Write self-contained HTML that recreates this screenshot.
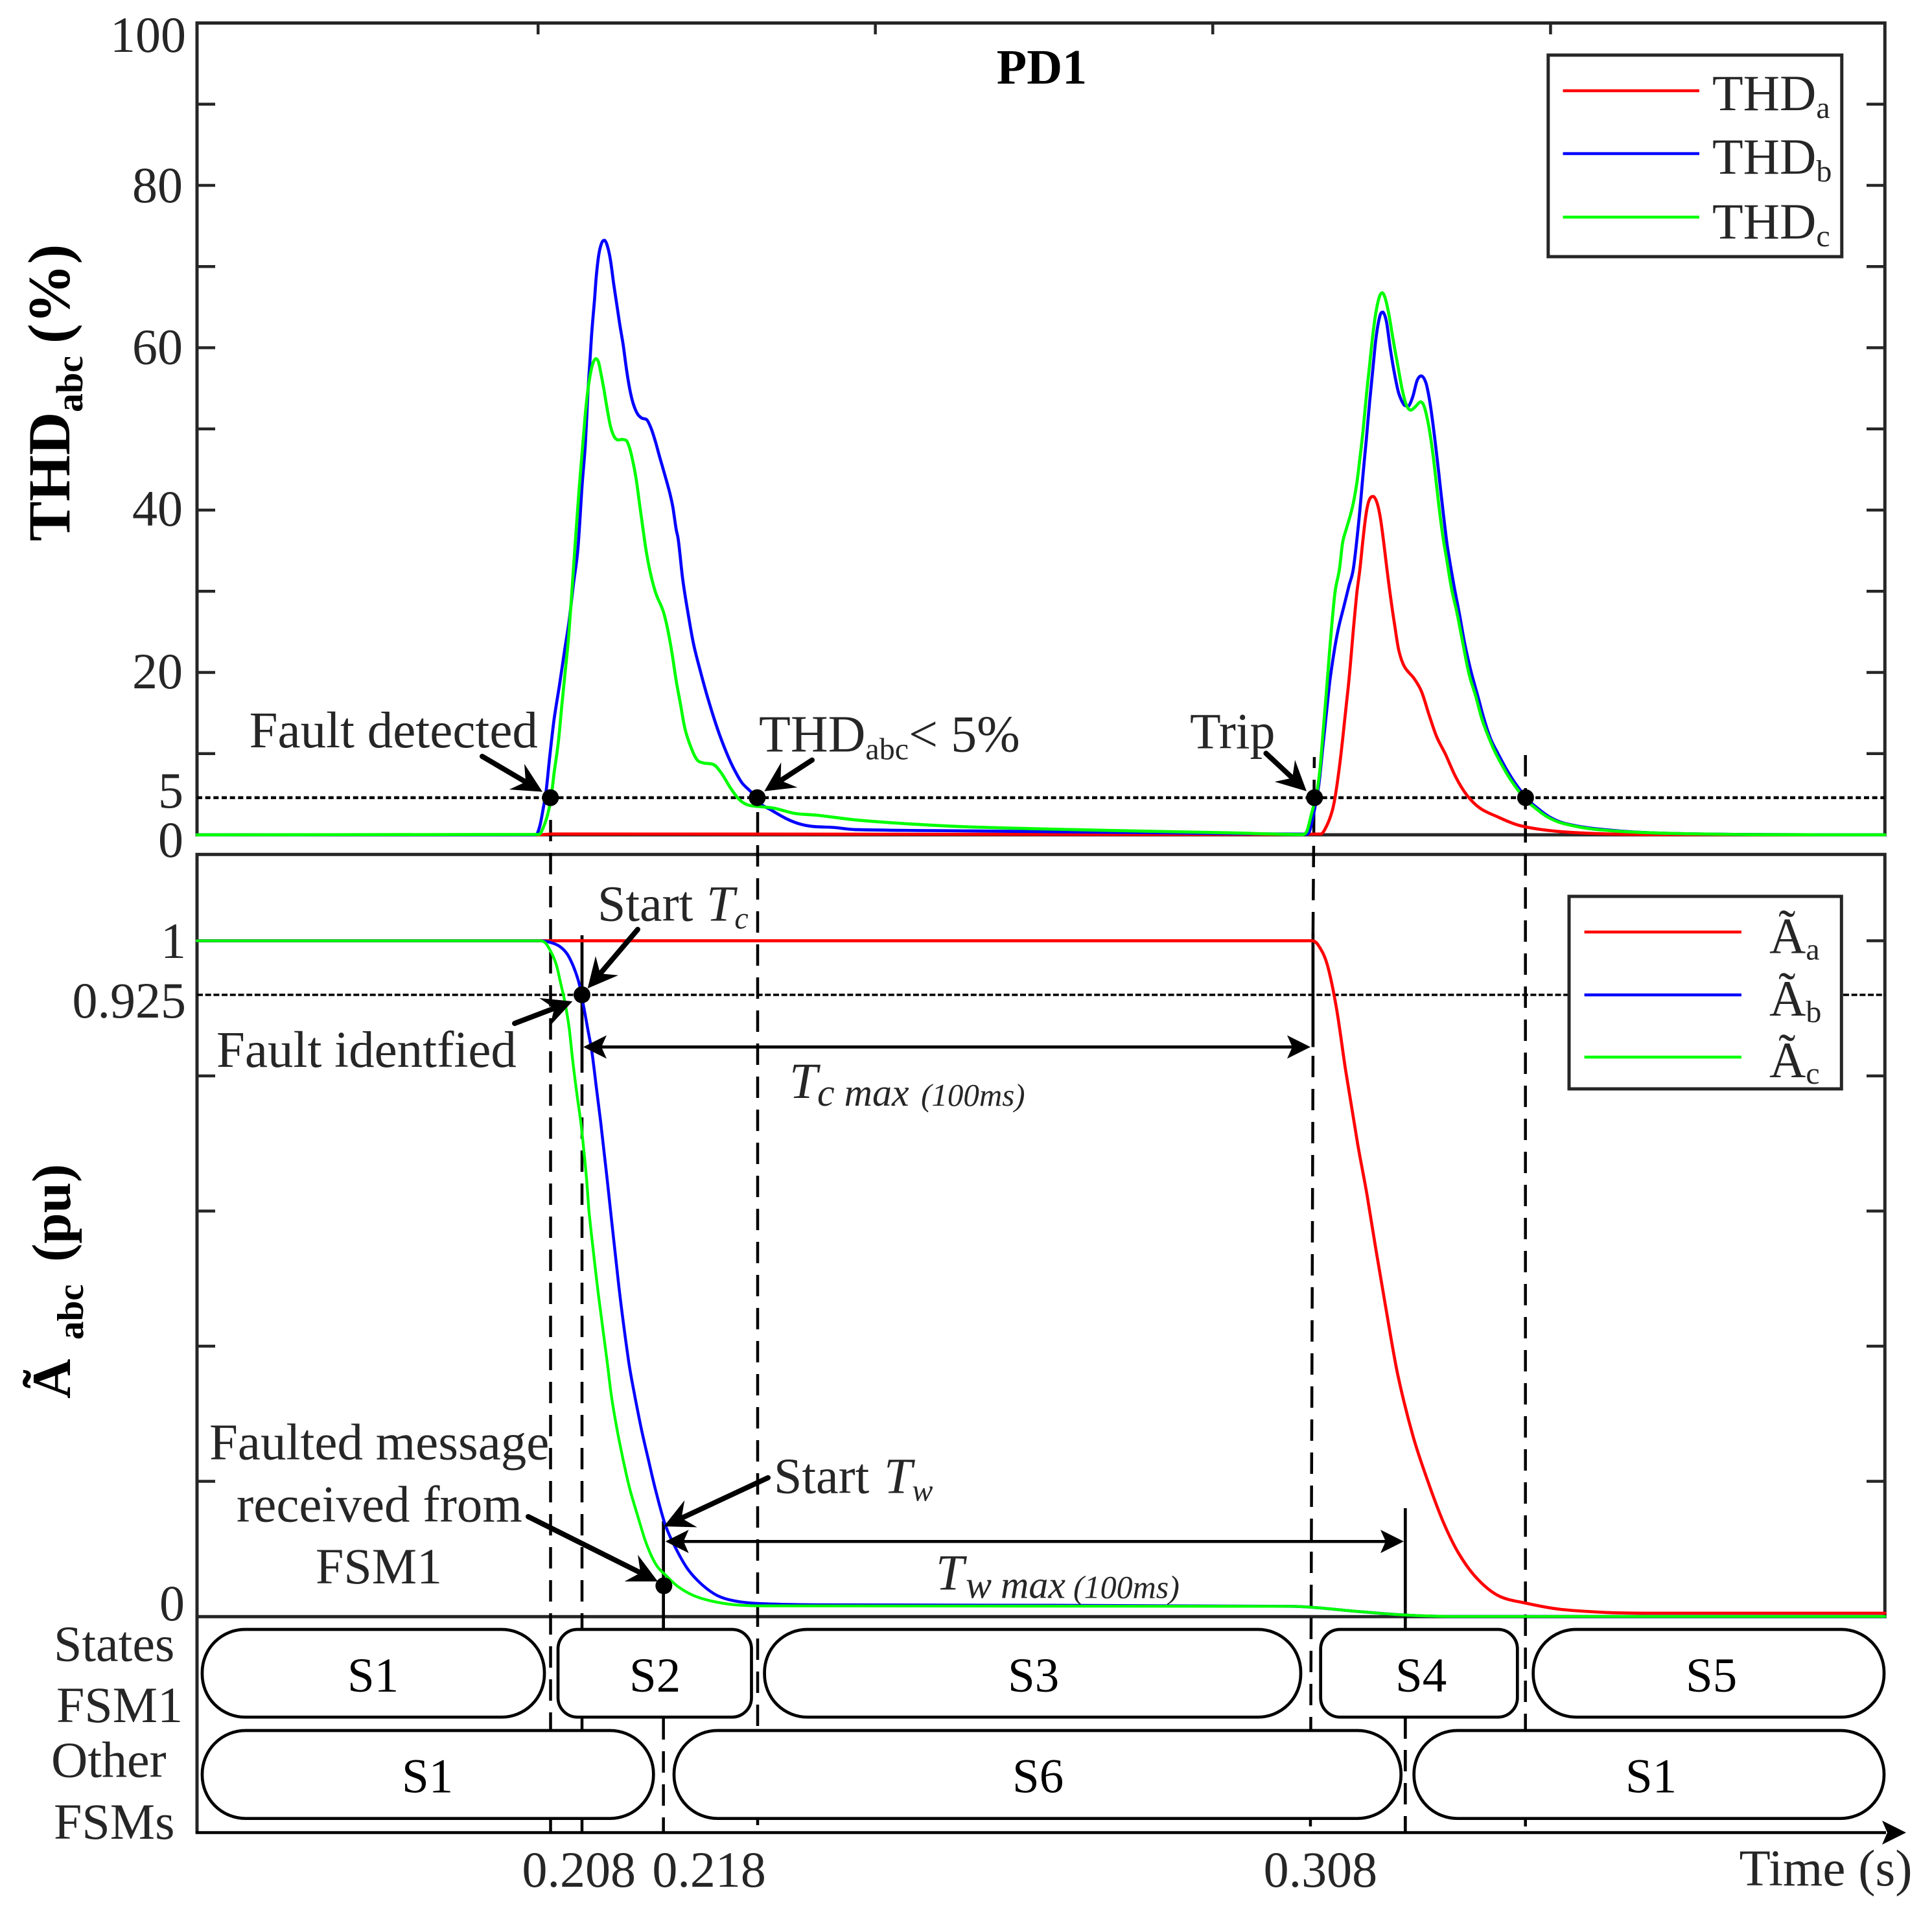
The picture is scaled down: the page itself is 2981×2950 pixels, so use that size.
<!DOCTYPE html>
<html lang="en">
<head>
<meta charset="utf-8">
<title>PD1 THD and amplitude timing chart</title>
<style>
html,body{margin:0;padding:0;background:#fff;}
svg{display:block;}
text{font-family:"Liberation Serif","DejaVu Serif",serif;fill:#262626;font-size:78px;}
.blk{fill:#000;}
.it{font-style:italic;}
.sub{font-size:48px;}
.pilltxt{font-size:75px;fill:#000;}
.pill{fill:#fff;stroke:#000;stroke-width:4.7;}
.frame{fill:none;stroke:#262626;stroke-width:5;}
.legendbox{fill:#fff;stroke:#262626;stroke-width:5;}
</style>
</head>
<body>
<svg id="chart" xmlns="http://www.w3.org/2000/svg" width="2981" height="2950" viewBox="0 0 2981 2950">
  <rect x="0" y="0" width="2981" height="2950" fill="#fff"/>

  <rect class="frame" x="304" y="35.5" width="2604.3" height="1252.5"/>
  <rect class="frame" x="304" y="1318.3" width="2604.3" height="1176"/>
  <g id="tick-layer"></g>
  <g id="guide-layer"></g>
  <g id="curve-layer"></g>

  <line x1="304" y1="2494" x2="304" y2="2829" stroke="#262626" stroke-width="5"/>
  <line x1="302" y1="2827.5" x2="2910" y2="2827.5" stroke="#000" stroke-width="4.5"/>
  <polygon points="2941,2827.5 2904,2809 2912,2827.5 2904,2846" fill="#000"/>

  <g>
    <rect class="pill" x="312" y="2514" width="528" height="135.3" rx="66" ry="66"/>
    <rect class="pill" x="861" y="2514" width="298.5" height="135.3" rx="30" ry="30"/>
    <rect class="pill" x="1179.6" y="2514" width="827.4" height="135.3" rx="66" ry="66"/>
    <rect class="pill" x="2037.7" y="2514" width="303.6" height="135.3" rx="30" ry="30"/>
    <rect class="pill" x="2365.7" y="2514" width="541.3" height="135.3" rx="66" ry="66"/>
    <text class="pilltxt" x="536" y="2610">S1</text>
    <text class="pilltxt" x="971" y="2610">S2</text>
    <text class="pilltxt" x="1555" y="2610">S3</text>
    <text class="pilltxt" x="2153" y="2610">S4</text>
    <text class="pilltxt" x="2601" y="2610">S5</text>
  </g>
  <g>
    <rect class="pill" x="312" y="2670" width="696.3" height="135.7" rx="67" ry="67"/>
    <rect class="pill" x="1040" y="2670" width="1121.7" height="135.7" rx="67" ry="67"/>
    <rect class="pill" x="2181.7" y="2670" width="725.3" height="135.7" rx="67" ry="67"/>
    <text class="pilltxt" x="620" y="2765.5">S1</text>
    <text class="pilltxt" x="1562" y="2765.5">S6</text>
    <text class="pilltxt" x="2508" y="2765.5">S1</text>
  </g>

  <g text-anchor="end">
    <text x="287" y="80">100</text>
    <text x="282" y="312">80</text>
    <text x="282" y="561.6">60</text>
    <text x="282" y="811">40</text>
    <text x="282" y="1062">20</text>
    <text x="283" y="1246">5</text>
    <text x="283" y="1322">0</text>
  </g>
  <g text-anchor="end">
    <text x="287" y="1478">1</text>
    <text x="287" y="1570">0.925</text>
    <text x="285" y="2500">0</text>
  </g>

  <text transform="translate(107,835) rotate(-90)" style="font-weight:bold;font-size:92px;fill:#000"><tspan x="0">THD</tspan><tspan x="199" dy="20" style="font-size:58px">abc</tspan><tspan x="305" dy="-20">(%)</tspan></text>
  <text transform="translate(108,2158) rotate(-90)" style="font-weight:bold;font-size:85px;fill:#000"><tspan x="0">Ã</tspan><tspan x="91" dy="20" style="font-size:57px">abc</tspan><tspan x="211" dy="-20">(pu)</tspan></text>

  <text x="1537.8" y="129" class="blk" style="font-weight:bold;font-size:76px">PD1</text>

  <g>
    <rect class="legendbox" x="2388.8" y="85" width="453" height="311"/>
    <line x1="2411.5" y1="140" x2="2622" y2="140" stroke="#ff0000" stroke-width="4.5"/>
    <line x1="2411.5" y1="237" x2="2622" y2="237" stroke="#0000ff" stroke-width="4.5"/>
    <line x1="2411.5" y1="335" x2="2622" y2="335" stroke="#00ff00" stroke-width="4.5"/>
    <text x="2642" y="170">THD<tspan class="sub" dy="12">a</tspan></text>
    <text x="2642" y="268">THD<tspan class="sub" dy="12">b</tspan></text>
    <text x="2642" y="368">THD<tspan class="sub" dy="12">c</tspan></text>
  </g>
  <g>
    <rect class="legendbox" x="2421" y="1383" width="420.3" height="297"/>
    <line x1="2444.6" y1="1438" x2="2687" y2="1438" stroke="#ff0000" stroke-width="4.5"/>
    <line x1="2444.6" y1="1535" x2="2687" y2="1535" stroke="#0000ff" stroke-width="4.5"/>
    <line x1="2444.6" y1="1631" x2="2687" y2="1631" stroke="#00ff00" stroke-width="4.5"/>
    <text x="2730" y="1470.5">Ã<tspan class="sub" dy="10">a</tspan></text>
    <text x="2730" y="1567">Ã<tspan class="sub" dy="10">b</tspan></text>
    <text x="2730" y="1662">Ã<tspan class="sub" dy="10">c</tspan></text>
  </g>

  <text x="384.6" y="1152.8" style="font-size:79px">Fault detected</text>
  <text x="1171" y="1159.5" style="font-size:80px">THD<tspan class="sub" dy="12">abc</tspan><tspan dy="-12">&lt; 5%</tspan></text>
  <text x="1836" y="1154.7">Trip</text>
  <text x="922" y="1420.6">Start<tspan class="it" x="1090">T</tspan><tspan class="it sub" dy="12">c</tspan></text>
  <text x="334" y="1646" style="font-size:79px">Fault identfied</text>
  <text x="1218" y="1694" class="it">T<tspan x="1261" dy="12" style="font-size:60px">c max</tspan><tspan x="1421" style="font-size:49px">(100ms)</tspan></text>
  <text x="323" y="2251.7" style="font-size:79px">Faulted message</text>
  <text x="365" y="2347.4" style="font-size:79px">received from</text>
  <text x="487" y="2443">FSM1</text>
  <text x="1194" y="2303.4">Start<tspan class="it" x="1364">T</tspan><tspan class="it sub" dy="12">w</tspan></text>
  <text x="1444" y="2452.6" class="it">T<tspan x="1490" dy="13" style="font-size:60px">w</tspan><tspan x="1544" style="font-size:60px">max</tspan><tspan x="1656" style="font-size:50px">(100ms)</tspan></text>

  <text x="83" y="2562.6">States</text>
  <text x="87" y="2657">FSM1</text>
  <text x="79" y="2741.5">Other</text>
  <text x="83" y="2837">FSMs</text>

  <text x="805.5" y="2910.8">0.208</text>
  <text x="1006.4" y="2910.8">0.218</text>
  <text x="1949.6" y="2910.8">0.308</text>
  <text x="2683.5" y="2909" style="font-size:79px">Time (s)</text>

  <g id="arrow-layer"></g>
  <g id="dot-layer"></g>
</svg>
<script>
// ---------- Time samples (ms) and values ----------
const thdATimes = [155.57,202,204,300,308.64,309.38,310.12,310.56,311.15,311.59,
312.03,312.47,313.06,313.5,313.94,314.38,314.82,315.26,315.79,316.3,
316.74,317.18,317.62,318.06,318.65,319.23,319.98,321.3,322.32,323.36,
324.39,325.56,327.04,328.5,330.27,332.62,335.56,339.98,345.86,354.69,
385.43];
const thdAValues = [0,0,.1,.05,.1,1.04,2.79,4.63,8.38,11.82,
15.57,19.27,25.39,29.64,32.73,36.57,39.76,41.36,41.68,40.82,
38.96,36.03,32.73,29.64,25.95,22.75,20.76,19.27,17.67,14.77,
12.08,9.98,7.03,4.89,3.3,2.24,1.17,.5,.16,.02,
0];

const thdBTimes = [155.57,201.5,201.85,202.29,202.73,203.12,203.61,204.2,204.94,205.68,
206.26,206.85,207.44,208.03,208.47,208.82,209.12,209.35,209.7,209.94,
210.29,210.67,211.06,211.42,211.86,212.3,212.74,213.18,213.62,214.06,
214.5,214.95,215.53,216.12,216.85,217.44,218.04,218.62,219.21,219.94,
220.38,220.82,221.12,221.71,222.45,223.18,224.06,224.95,225.83,226.71,
227.74,228.77,229.8,231.12,232.27,233.48,235.8,237.57,239.33,242.33,
245.25,261.13,287.61,306.59,307.03,307.62,308.35,308.94,309.38,309.82,
310.41,311,311.73,312.47,313.06,313.8,314.38,314.82,315.26,315.7,
316.15,316.68,317.09,317.56,318.06,318.65,319.23,319.98,320.56,321.15,
321.74,322.32,322.91,323.36,323.8,324.24,324.68,325.27,325.85,326.74,
327.48,328.21,329.09,329.97,330.86,331.74,332.62,333.8,334.98,336.75,
337.92,339.68,341.71,345.86,353.8,367.04,385.43];
const thdBValues = [0,0,.06,1.2,3.3,5.43,9.68,14.2,18.47,23,
26.45,31,35.23,43.22,48.3,54.69,58.92,62.1,65.87,68.77,
71.46,72.89,73.24,72.65,70.9,67.97,65.31,62.67,60.28,57.32,
54.93,53.2,51.9,51.34,51.1,50,48.3,46.41,44.55,42.16,
40.32,37.63,36.33,31.54,27.25,23.55,20.36,17.41,14.77,12.38,
9.98,7.98,6.39,5.19,3.83,3.19,2,1.36,1.04,.9,
.64,.48,.24,.08,.3,2.5,6.23,11.28,15.01,18.76,
22.46,25.39,28.05,30.74,32.84,38.72,44.55,48.81,53.33,57.32,
61.32,63.98,64.38,63.18,59.98,56.79,54.39,52.93,52.8,54,
55.99,56.53,55.73,53.89,51.2,48.01,44.55,39.76,35.53,30.74,
27.25,23.55,20.06,17.17,14.21,11.82,10.22,8.22,6.49,4.39,
3.43,2.24,1.44,.77,.24,.04,0];

const thdCTimes = [155.57,202.15,202.73,203.32,203.76,204.2,204.8,205.24,205.68,206.12,
206.41,206.7,207,207.59,208.03,208.47,208.82,209.21,209.5,209.88,
210.23,210.59,210.97,211.42,211.86,212.35,212.88,213.47,214.06,214.5,
214.95,215.39,215.83,216.27,216.71,217.29,218.04,219.06,219.65,220.24,
220.82,221.42,222,222.74,223.62,224.5,225.98,227,228.18,229.36,
230.51,232,234.04,237.01,239.95,245.25,252.31,261.13,278.78,296.44,
306.15,306.74,307.32,308.06,308.5,308.94,309.38,309.82,310.12,310.56,
311.15,311.59,312.17,312.91,313.5,313.94,314.38,314.82,315.26,315.7,
316.15,316.59,316.98,317.38,317.91,318.5,319.09,319.68,320.27,320.86,
321.44,322.18,322.62,323.06,323.5,323.95,324.39,324.83,325.27,325.71,
326.45,327.18,327.92,328.8,329.68,330.57,331.45,332.33,333.51,334.68,
336.44,337.63,339.39,341.45,345.86,353.8,367.04,385.43];
const thdCValues = [0,.05,.9,2.5,4.39,7.58,11.58,15.81,19.8,23.79,
27.25,30.98,34.97,42.42,47.21,52,54.93,57.09,58.12,58.66,
58.28,56.79,54.93,52.53,50.4,49.1,48.62,48.7,48.54,47.61,
45.91,43.75,40.82,37.92,35.13,32.34,29.78,27.54,25.39,22.46,
19,16.07,13.17,11.02,9.29,8.86,8.62,7.58,5.83,4.39,
3.7,3.49,3.3,2.63,2.42,1.84,1.36,.96,.56,.24,
.03,.5,2.5,5.19,8.09,12.88,17.67,22.75,25.95,29.94,
32.73,36.03,37.92,40.32,43.22,46.41,49.9,54.13,57.88,61.58,
64.51,66.27,66.77,66.11,63.98,60.78,57.88,54.93,52.93,52.3,
52.69,53.33,52.93,51.5,49.34,46.41,42.95,39.52,36.57,34.17,
30.18,27.25,23.79,19.8,17.17,14.21,12.08,10.22,8.22,6.49,
4.39,3.43,2.24,1.44,.69,.24,.03,0];

const ampATimes = [155.57,307.4,308.24,309.48,310.74,311.99,313.65,314.88,316.12,317.41,
319.08,321.15,323.24,325.32,327.41,329.89,332.8,336.58,341.17,347.8,
352.84,385.43];
const ampAValues = [1,1,.994,.965,.9007,.8086,.6983,.6254,.5429,.4604,
.3587,.2676,.1986,.1391,.093,.0562,.0307,.0196,.0106,.0058,
.0048,.0048];

const ampBTimes = [155.57,202.29,203.76,204.94,205.97,206.85,207.59,208.18,208.77,209.35,
209.94,210.53,211.42,213.03,214.35,215.24,216.12,217,218.04,219.36,
220.82,222.45,224.35,226.42,228.77,232,239.95,304.47,314.09,319.98,
326.45,385.43];
const ampBValues = [1,1,.9973,.9918,.9806,.9614,.9374,.9055,.8703,.8355,
.784,.7328,.6481,.4873,.3779,.3235,.2756,.234,.1861,.135,
.0998,.0694,.047,.031,.023,.0192,.0173,.015,.007,.0022,
0,0];

const ampCTimes = [155.57,202.29,203.03,203.76,204.5,205.09,205.68,206.26,206.7,207.29,
207.89,208.62,208.97,210.21,211.42,212,212.74,213.62,214.5,215.53,
216.71,218.04,219.36,221.12,223.18,225.54,228.77,232.89,304.47,314.09,
319.98,326.45,385.43];
const ampCValues = [1,1,.9966,.9839,.9647,.9374,.9087,.8703,.8259,.7744,
.7264,.6481,.5976,.4787,.3779,.3268,.2788,.2309,.1893,.1509,
.1094,.0774,.0614,.0438,.031,.023,.0173,.0156,.015,.007,
.0022,0,0];

const thdTickValues = [10,20,30,40,50,60,70,80,90];
const ampTickValues = [.2,.4,.6,.8,1];
const timeTickValues = [202.02,247.95,293.9,339.9];
const thdThreshold = 4.575;
const ampThreshold = .92;
const thdEventTimes = [203.7,231.86,307.76,336.5];
const ampEventTimes = [208,219.15];
const ampEventValues = [.92,.0454];

// ---------- Axis functions ----------
function xScale(t){ return 898 + (t - 208) * 11.33; }
function yThd(v){ return 1288 - v * 12.525; }
function yAmp(v){ return 2494 - v * 1042.5; }

const NS = 'http://www.w3.org/2000/svg';
function make(tag, parent, attrs){
  const el = document.createElementNS(NS, tag);
  for (const k in attrs) el.setAttribute(k, attrs[k]);
  parent.appendChild(el);
  return el;
}
const tickLayer = document.getElementById('tick-layer');
const guideLayer = document.getElementById('guide-layer');
const curveLayer = document.getElementById('curve-layer');
const arrowLayer = document.getElementById('arrow-layer');
const dotLayer = document.getElementById('dot-layer');

// ---------- Ticks ----------
function tick(name, x1, y1, x2, y2){
  const el = make('line', tickLayer, {x1:x1, y1:y1, x2:x2, y2:y2, stroke:'#262626', 'stroke-width':4.5});
  
  
}
thdTickValues.forEach(function(v){
  tick('thd-left-tick', 304, yThd(v), 332, yThd(v));
  tick('thd-right-tick', 2908, yThd(v), 2880, yThd(v));
});
ampTickValues.forEach(function(v){
  tick('amp-left-tick', 304, yAmp(v), 332, yAmp(v));
  tick('amp-right-tick', 2908, yAmp(v), 2880, yAmp(v));
});
timeTickValues.forEach(function(t){
  tick('time-top-tick', xScale(t), 35.5, xScale(t), 53);
});

// ---------- Guides ----------
function guide(name, t1, y1, t2, y2, width, dash, offset){
  const el = make('line', guideLayer, {x1:xScale(t1), y1:y1, x2:xScale(t2), y2:y2, stroke:'#000', 'stroke-width':width});
  if (dash) el.setAttribute('stroke-dasharray', dash);
  if (offset) el.setAttribute('stroke-dashoffset', offset);
  
  
}
const thdDotted = make('line', guideLayer, {x1:304, y1:yThd(thdThreshold), x2:2908, y2:yThd(thdThreshold), stroke:'#000', 'stroke-width':4.5, 'stroke-dasharray':'8 4.67'});


const ampDotted = make('line', guideLayer, {x1:304, y1:yAmp(ampThreshold), x2:2908, y2:yAmp(ampThreshold), stroke:'#000', 'stroke-width':3.6, 'stroke-dasharray':'9 3.7'});



const DASH = '33 18';
guide('fault-detected-guide', 203.72, 1265, 203.72, 2826, 4.5, DASH);
guide('tc-start-solid-guide', 208, 1443, 208, 1655, 4.7);
guide('tc-start-dashed-guide', 208, 1673, 208, 2826, 4.5, DASH);
guide('thd-below-5-guide', 231.92, 1253, 231.92, 2826, 4.5, DASH);
guide('tw-start-solid-guide', 219.09, 2346.7, 219.09, 2514, 4.7);
guide('tw-start-dashed-guide', 219.09, 2651, 219.09, 2826, 4.5, DASH);
guide('trip-upper-guide', 307.73, 1168, 307.55, 1440, 4.5, DASH, 16);
guide('trip-solid-guide', 307.55, 1440, 307.55, 1615.5, 4.7);
guide('trip-lower-guide', 307.55, 1629, 307.2, 2818, 4.5, DASH);
guide('tw-end-solid-guide', 320.12, 2327, 320.12, 2682.7, 4.7);
guide('tw-end-dashed-guide', 320.12, 2700, 320.12, 2829, 4.7, DASH);
guide('fault-cleared-guide', 336.48, 1165, 336.48, 2818, 4.5, DASH);

// ---------- Curves (smoothed through the sampled values) ----------
function curve(name, times, values, yFn, color, width){
  const n = Math.min(times.length, values.length);
  const px = [], py = [];
  for (let i = 0; i < n; i++){
    px.push(xScale(times[i]));
    py.push(yFn(values[i]));
  }
  let d = 'M' + px[0].toFixed(1) + ' ' + py[0].toFixed(1);
  for (let i = 0; i < n - 1; i++){
    const a = Math.max(i - 1, 0), b = Math.min(i + 2, n - 1);
    const lo = Math.min(py[i], py[i + 1]), hi = Math.max(py[i], py[i + 1]);
    const dx = px[i + 1] - px[i];
    const s1 = (py[i + 1] - py[a]) / Math.max(px[i + 1] - px[a], 0.01);
    const s2 = (py[b] - py[i]) / Math.max(px[b] - px[i], 0.01);
    const c1y = Math.min(hi, Math.max(lo, py[i] + s1 * dx / 3));
    const c2y = Math.min(hi, Math.max(lo, py[i + 1] - s2 * dx / 3));
    d += 'C' + (px[i] + dx / 3).toFixed(1) + ' ' + c1y.toFixed(1) + ' ' +
         (px[i + 1] - dx / 3).toFixed(1) + ' ' + c2y.toFixed(1) + ' ' +
         px[i + 1].toFixed(1) + ' ' + py[i + 1].toFixed(1);
  }
  const el = make('path', curveLayer, {d:d, fill:'none', stroke:color, 'stroke-width':width, 'stroke-linejoin':'round', 'stroke-linecap':'round'});
  
  
}
curve('amp-a-line', ampATimes, ampAValues, yAmp, '#ff0000', 4.7);
curve('amp-b-line', ampBTimes, ampBValues, yAmp, '#0000ff', 4.5);
curve('amp-c-line', ampCTimes, ampCValues, yAmp, '#00ff00', 4.3);
curve('thd-a-line', thdATimes, thdAValues, yThd, '#ff0000', 4.7);
curve('thd-b-line', thdBTimes, thdBValues, yThd, '#0000ff', 4.7);
curve('thd-c-line', thdCTimes, thdCValues, yThd, '#00ff00', 4.7);

// ---------- Annotation arrows ----------
function headAt(parent, name, x1, y1, x2, y2, L, hw, notch){
  const dx = x2 - x1, dy = y2 - y1, len = Math.hypot(dx, dy);
  const ux = dx / len, uy = dy / len, px = -uy, py = ux;
  const pts = [
    [x2, y2],
    [x2 - ux * L + px * hw, y2 - uy * L + py * hw],
    [x2 - ux * notch, y2 - uy * notch],
    [x2 - ux * L - px * hw, y2 - uy * L - py * hw]
  ];
  const el = make('polygon', parent, {points: pts.map(function(p){ return p[0].toFixed(1) + ',' + p[1].toFixed(1); }).join(' '), fill:'#000'});
  
  
}
function thickArrow(name, x1, y1, x2, y2){
  const g = make('g', arrowLayer, {});
  
  
  const dx = x2 - x1, dy = y2 - y1, len = Math.hypot(dx, dy);
  const shaft = make('line', g, {x1:x1, y1:y1, x2:x2 - dx / len * 32, y2:y2 - dy / len * 32, stroke:'#000', 'stroke-width':8, 'stroke-linecap':'round'});
  
  
  headAt(g, name + '-head', x1, y1, x2, y2, 46, 23, 30);
}
function spanArrow(name, x1, x2, y){
  const g = make('g', arrowLayer, {});
  
  
  const shaft = make('line', g, {x1:x1 + 28, y1:y, x2:x2 - 28, y2:y, stroke:'#000', 'stroke-width':4.7});
  
  
  headAt(g, name + '-left-head', x2, y, x1, y, 36, 18, 28);
  headAt(g, name + '-right-head', x1, y, x2, y, 36, 18, 28);
}
thickArrow('fault-detected-arrow', 744, 1167, 837, 1221.6);
thickArrow('thd-below-5-arrow', 1253, 1172.7, 1179.3, 1220.7);
thickArrow('trip-arrow', 1953.4, 1162.3, 2016, 1220.7);
thickArrow('start-tc-arrow', 984, 1434, 906.7, 1525);
thickArrow('fault-identified-arrow', 794, 1579, 883.3, 1545);
thickArrow('start-tw-arrow', 1185, 2280, 1024.3, 2355);
thickArrow('faulted-message-arrow', 815, 2340, 1015, 2440);
spanArrow('tc-max-span-arrow', 900, 2022, 1615.4);
spanArrow('tw-max-span-arrow', 1026.7, 2166, 2378.3);

// ---------- Event markers ----------
function eventDot(name, cx, cy){
  const el = make('circle', dotLayer, {cx:cx, cy:cy, r:13, fill:'#000'});
  
  
}
thdEventTimes.forEach(function(t){
  eventDot('thd-event-marker', xScale(t), yThd(thdThreshold));
});
ampEventTimes.forEach(function(t, i){
  eventDot('amplitude-event-marker', xScale(t), yAmp(ampEventValues[i]));
});
</script>
</body>
</html>
